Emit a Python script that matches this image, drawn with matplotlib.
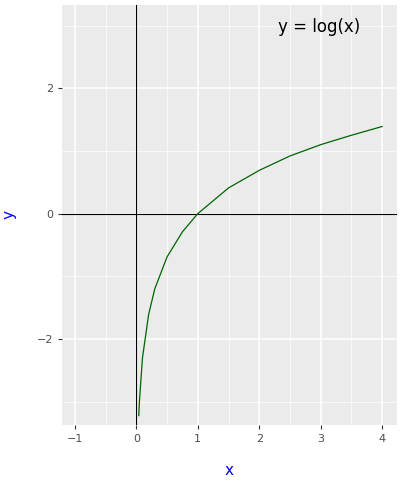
import matplotlib
matplotlib.use("Agg")
import matplotlib.pyplot as plt

# values
x_vals = [0.04, 0.05, 0.1, 0.2, 0.3, 0.5, 0.75, 1.0, 1.5, 2.0, 2.5, 3.0, 3.5, 4.0]
y_vals = [-3.22, -3.0, -2.30, -1.61, -1.20, -0.69, -0.29, 0.0, 0.41, 0.69, 0.92, 1.10, 1.25, 1.39]
x_ticks = [-1, 0, 1, 2, 3, 4]
y_ticks = [-2, 0, 2]

fig = plt.figure(figsize=(4.05, 4.84), dpi=100)
ax = fig.add_axes([0.153, 0.122, 0.827, 0.868])
ax.set_facecolor("#EBEBEB")

ax.set_xlim(-1.21, 4.24)
ax.set_ylim(-3.37, 3.33)
ax.set_xticks(x_ticks)
ax.set_yticks(y_ticks)
ax.set_xticks([-0.5, 0.5, 1.5, 2.5, 3.5], minor=True)
ax.set_yticks([-3, -1, 1, 3], minor=True)
ax.grid(True, which="major", color="white", linewidth=1.1)
ax.grid(True, which="minor", color="white", linewidth=0.5)
ax.set_axisbelow(True)
for s in ax.spines.values():
    s.set_visible(False)
ax.tick_params(which="major", length=3, color="#333333", labelsize=8, labelcolor="#4D4D4D")
ax.tick_params(which="minor", length=0)

ax.axhline(0, color="black", linewidth=0.8)
ax.axvline(0, color="black", linewidth=0.8)
ax.plot(x_vals, y_vals, color="darkgreen", linewidth=0.9)

ax.text(2.98, 2.97, "y = log(x)", fontsize=12, ha="center", va="center")
ax.set_xlabel("x", color="blue", fontsize=11, labelpad=14)
ax.set_ylabel("y", color="blue", fontsize=11, labelpad=14)

fig.savefig("out.png", dpi=100)
